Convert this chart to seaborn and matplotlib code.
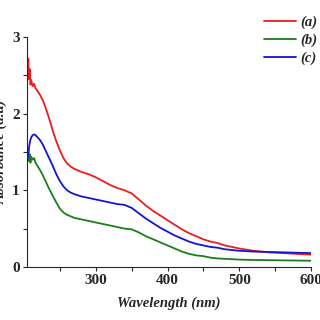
import pandas as pd
import matplotlib
matplotlib.use("Agg")
import matplotlib.pyplot as plt
import seaborn as sns

# wavelength (nm) shared by all three spectra
wavelength = [205, 206, 207, 208, 209, 210, 212, 214, 216, 218, 222, 226,
              230, 235, 240, 245, 250, 255, 260, 265, 270, 280, 290, 300,
              310, 320, 330, 340, 350, 360, 370, 380, 390, 400, 410, 420,
              430, 440, 450, 460, 470, 480, 490, 500, 520, 540, 560, 580, 600]

abs_a = [2.55, 2.72, 2.45, 2.58, 2.38, 2.44, 2.36, 2.39, 2.33, 2.31, 2.25, 2.18,
         2.08, 1.94, 1.78, 1.64, 1.52, 1.42, 1.35, 1.31, 1.28, 1.24, 1.21, 1.17,
         1.12, 1.07, 1.03, 1.00, 0.96, 0.88, 0.80, 0.73, 0.67, 0.61, 0.55, 0.49,
         0.44, 0.40, 0.36, 0.33, 0.31, 0.28, 0.26, 0.24, 0.21, 0.19, 0.18, 0.17, 0.16]

abs_b = [1.42, 1.53, 1.38, 1.47, 1.36, 1.44, 1.40, 1.42, 1.36, 1.33, 1.27, 1.20,
         1.12, 1.02, 0.93, 0.84, 0.76, 0.71, 0.68, 0.66, 0.64, 0.62, 0.60, 0.58,
         0.56, 0.54, 0.52, 0.50, 0.49, 0.45, 0.40, 0.36, 0.32, 0.28, 0.24, 0.20,
         0.17, 0.15, 0.14, 0.12, 0.11, 0.105, 0.10, 0.095, 0.09, 0.088, 0.085, 0.083, 0.08]

abs_c = [1.40, 1.48, 1.56, 1.62, 1.66, 1.69, 1.72, 1.73, 1.72, 1.70, 1.66, 1.60,
         1.52, 1.42, 1.32, 1.21, 1.12, 1.05, 1.00, 0.97, 0.95, 0.92, 0.90, 0.88,
         0.86, 0.84, 0.82, 0.81, 0.77, 0.70, 0.63, 0.57, 0.51, 0.46, 0.41, 0.37,
         0.33, 0.30, 0.28, 0.26, 0.25, 0.23, 0.22, 0.21, 0.20, 0.195, 0.19, 0.185, 0.18]

labels = ["(a)", "(b)", "(c)"]
colors = ["#ee1c1c", "#1a7f1a", "#1414d4"]

sns.set_style("ticks")
plt.rcParams['font.family'] = ['Liberation Serif', 'DejaVu Serif']

# long format table for seaborn
df = pd.concat([
    pd.DataFrame({'wl': wavelength, 'abs': vals, 'sample': lab})
    for vals, lab in zip([abs_a, abs_b, abs_c], labels)
])

fig = plt.figure(figsize=(3.2, 3.2), dpi=100)
ax = fig.add_axes([0.084, 0.166, 0.888, 0.718])

sns.lineplot(data=df, x='wl', y='abs', hue='sample', palette=colors,
             linewidth=1.3, ax=ax, sort=False, estimator=None)

ax.set_xlim(204, 600)
ax.set_ylim(0, 3)
ax.set_xticks([300, 400, 500, 600])
ax.set_xticks([250, 350, 450, 550], minor=True)
ax.set_yticks([0, 1, 2, 3])
ax.set_yticks([0.5, 1.5, 2.5], minor=True)
ax.tick_params(which='both', direction='out', length=3, width=0.8,
               labelsize=11, pad=2)
for lbl in ax.get_xticklabels() + ax.get_yticklabels():
    lbl.set_fontweight('bold')

sns.despine(ax=ax)
for spine in ax.spines.values():
    spine.set_linewidth(0.8)

ax.set_xlabel('Wavelength (nm)', fontsize=10.5, fontweight='bold',
              fontstyle='italic', labelpad=7)
ax.set_ylabel('Absorbance (a.u)', fontsize=10.5, fontweight='bold',
              fontstyle='italic', labelpad=3)

handles, _ = ax.get_legend_handles_labels()
ax.legend(handles, labels, loc='upper right', bbox_to_anchor=(1.07, 1.15),
          frameon=False, handlelength=2.2, handletextpad=0.3,
          labelspacing=0.3, prop={'weight': 'bold', 'style': 'italic', 'size': 10.5})

fig.savefig('out.png', dpi=100)
